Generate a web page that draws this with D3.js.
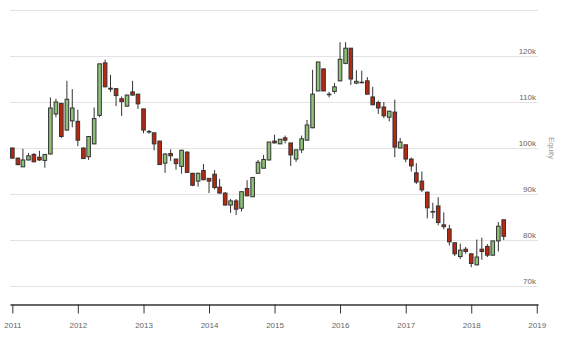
<!DOCTYPE html>
<html>
<head>
<meta charset="utf-8">
<script src="https://cdn.jsdelivr.net/npm/d3@7"></script>
<style>
  html, body { margin: 0; padding: 0; background: #fff; }
  svg { display: block; font-family: "Liberation Sans", Arial, Helvetica, sans-serif; }
</style>
</head>
<body>
<svg id="chart" width="568" height="342"></svg>
<script>
// Monthly equity candles, values in thousands
const months = [
  "2011-01","2011-02","2011-03","2011-04","2011-05","2011-06","2011-07","2011-08","2011-09","2011-10","2011-11","2011-12",
  "2012-01","2012-02","2012-03","2012-04","2012-05","2012-06","2012-07","2012-08","2012-09","2012-10","2012-11","2012-12",
  "2013-01","2013-02","2013-03","2013-04","2013-05","2013-06","2013-07","2013-08","2013-09","2013-10","2013-11","2013-12",
  "2014-01","2014-02","2014-03","2014-04","2014-05","2014-06","2014-07","2014-08","2014-09","2014-10","2014-11","2014-12",
  "2015-01","2015-02","2015-03","2015-04","2015-05","2015-06","2015-07","2015-08","2015-09","2015-10","2015-11","2015-12",
  "2016-01","2016-02","2016-03","2016-04","2016-05","2016-06","2016-07","2016-08","2016-09","2016-10","2016-11","2016-12",
  "2017-01","2017-02","2017-03","2017-04","2017-05","2017-06","2017-07","2017-08","2017-09","2017-10","2017-11","2017-12",
  "2018-01","2018-02","2018-03","2018-04","2018-05","2018-06","2018-07"
];
const open = [
  100.0, 97.8, 95.9, 97.4, 98.6, 98.0, 97.3, 98.7, 107.4, 109.7, 103.9, 105.9,
  105.8, 100.0, 98.1, 100.9, 107.1, 118.5, 113.0, 112.9, 110.7, 109.1, 112.2, 111.7,
  108.5, 103.6, 103.3, 101.5, 96.7, 98.8, 97.6, 96.0, 99.1, 94.5, 92.8, 95.1,
  93.4, 94.3, 91.5, 90.2, 87.6, 88.5, 86.9, 91.2, 89.4, 94.5, 95.6, 97.4,
  101.5, 100.9, 102.2, 101.1, 97.6, 99.6, 101.7, 104.4, 112.4, 117.2, 111.6, 112.3,
  114.6, 118.4, 121.7, 114.1, 114.3, 114.6, 111.1, 109.9, 108.9, 106.7, 107.8, 100.0,
  100.7, 97.6, 94.6, 92.8, 90.4, 86.2, 87.4, 83.3, 82.4, 79.4, 76.4, 78.0,
  77.0, 74.6, 78.0, 78.6, 76.7, 79.8, 84.4
];
const high = [
  100.1, 97.9, 99.8, 98.9, 98.9, 99.4, 98.6, 111.0, 110.7, 109.8, 114.6, 112.8,
  108.3, 100.1, 102.5, 108.8, 118.3, 119.2, 115.9, 113.0, 111.2, 111.6, 114.6, 111.8,
  108.5, 103.9, 103.3, 101.6, 98.8, 99.7, 97.6, 99.6, 99.3, 94.6, 94.6, 96.5,
  93.4, 95.2, 93.3, 90.4, 88.9, 88.9, 90.5, 93.0, 93.6, 97.4, 98.5, 101.3,
  102.9, 102.0, 102.7, 101.1, 99.6, 102.7, 106.1, 117.0, 118.7, 117.2, 112.2, 114.1,
  123.0, 123.0, 121.7, 116.9, 116.8, 115.4, 113.3, 110.3, 110.0, 108.1, 110.5, 102.2,
  100.7, 97.9, 96.7, 94.9, 90.5, 88.1, 89.3, 86.0, 83.3, 79.4, 79.2, 78.5,
  77.0, 80.1, 80.5, 79.1, 79.8, 83.9, 84.4
];
const low = [
  97.7, 96.2, 95.9, 97.3, 96.9, 97.2, 95.7, 98.6, 106.7, 102.2, 103.8, 104.5,
  100.4, 97.6, 97.4, 100.8, 106.7, 113.2, 112.2, 109.1, 107.0, 109.0, 111.4, 108.5,
  103.2, 103.1, 99.5, 96.3, 94.6, 97.2, 95.3, 94.4, 94.7, 91.7, 91.6, 93.0,
  90.2, 91.0, 90.1, 87.5, 85.9, 85.4, 86.2, 89.6, 89.4, 94.5, 95.6, 97.3,
  101.0, 100.9, 101.0, 96.1, 97.0, 98.9, 101.7, 104.3, 112.4, 112.4, 111.0, 111.8,
  114.5, 118.2, 113.7, 113.9, 114.1, 111.7, 109.3, 107.4, 106.5, 105.8, 98.0, 100.0,
  96.9, 94.9, 92.2, 90.4, 84.7, 84.7, 83.2, 82.3, 78.8, 76.5, 75.9, 77.0,
  74.1, 74.5, 75.7, 76.3, 76.6, 77.5, 80.0
];
const close = [
  97.8, 96.4, 97.4, 98.3, 97.0, 97.4, 98.6, 108.7, 110.0, 102.5, 110.6, 108.7,
  101.7, 97.7, 102.5, 106.4, 118.3, 113.3, 112.8, 111.4, 110.1, 111.5, 111.5, 109.6,
  103.9, 103.5, 100.9, 96.4, 98.7, 98.3, 96.6, 99.5, 94.7, 91.9, 94.5, 93.1,
  92.8, 91.4, 90.2, 87.6, 88.5, 86.7, 90.5, 89.6, 93.6, 96.9, 97.5, 101.3,
  101.1, 101.9, 101.7, 98.5, 99.6, 102.0, 105.0, 111.7, 118.7, 112.4, 111.7, 113.3,
  119.3, 121.7, 115.0, 114.5, 114.3, 111.7, 109.4, 108.7, 107.0, 108.0, 100.2, 101.3,
  97.6, 96.1, 92.6, 90.9, 87.0, 86.2, 83.8, 82.9, 79.6, 77.0, 77.8, 77.5,
  74.9, 76.3, 77.5, 76.7, 79.8, 83.0, 80.8
];
const gridValues = [70, 80, 90, 100, 110, 120, 130];
const labelValues = [70, 80, 90, 100, 110, 120];
const axisTitle = "Equity";

const parseMonth = d3.utcParse("%Y-%m");
const candles = months.map((m, i) => ({
  date: parseMonth(m), open: open[i], high: high[i], low: low[i], close: close[i]
}));

const svg = d3.select("#chart");

const x = d3.scaleUtc()
  .domain([Date.UTC(2010, 11, 19), Date.UTC(2019, 0, 8)])
  .range([10, 538]);
const y = d3.scaleLinear().domain([70, 130]).range([286, 10]);

// horizontal grid
svg.append("g").selectAll("line")
  .data(gridValues)
  .join("line")
  .attr("x1", 10).attr("x2", 538)
  .attr("y1", d => Math.round(y(d)) + 0.5).attr("y2", d => Math.round(y(d)) + 0.5)
  .attr("stroke", "#e3e3e3").attr("stroke-width", 1);

// right-hand value labels
svg.append("g").selectAll("text")
  .data(labelValues)
  .join("text")
  .attr("x", 536)
  .attr("y", d => y(d) - 2)
  .attr("text-anchor", "end")
  .attr("font-size", "8px")
  .attr("fill", "#666")
  .text(d => d + "k");

svg.append("text")
  .attr("transform", "translate(549,148) rotate(90)")
  .attr("text-anchor", "middle")
  .attr("font-size", "8px")
  .attr("fill", "#999")
  .text(axisTitle);

// time axis
const xAxis = d3.axisBottom(x)
  .ticks(d3.utcYear.every(1))
  .tickFormat(d3.utcFormat("%Y"))
  .tickSizeInner(9)
  .tickSizeOuter(0);

const gx = svg.append("g")
  .attr("transform", "translate(0,304.5)")
  .call(xAxis);
gx.select(".domain").attr("stroke", "#333").attr("stroke-width", 1.3);
gx.selectAll(".tick line").attr("stroke", "#333");
gx.selectAll(".tick text")
  .attr("y", 17.5)
  .attr("font-size", "8px")
  .attr("font-family", "\"Liberation Sans\", Arial, sans-serif")
  .attr("fill", "#666");

// candles
const bodyW = 3.6;
const g = svg.append("g");
const c = g.selectAll("g.candle").data(candles).join("g").attr("class", "candle");

c.append("line")
  .attr("x1", d => x(d.date)).attr("x2", d => x(d.date))
  .attr("y1", d => y(d.high)).attr("y2", d => y(d.low))
  .attr("stroke", "#333").attr("stroke-width", 1);

c.append("rect")
  .attr("x", d => x(d.date) - bodyW / 2)
  .attr("width", bodyW)
  .attr("y", d => y(Math.max(d.open, d.close)))
  .attr("height", d => Math.max(Math.abs(y(d.open) - y(d.close)), 0.6))
  .attr("fill", d => d.close >= d.open ? "#8cc176" : "#b8280e")
  .attr("stroke", "#333")
  .attr("stroke-width", 1);
</script>
</body>
</html>
